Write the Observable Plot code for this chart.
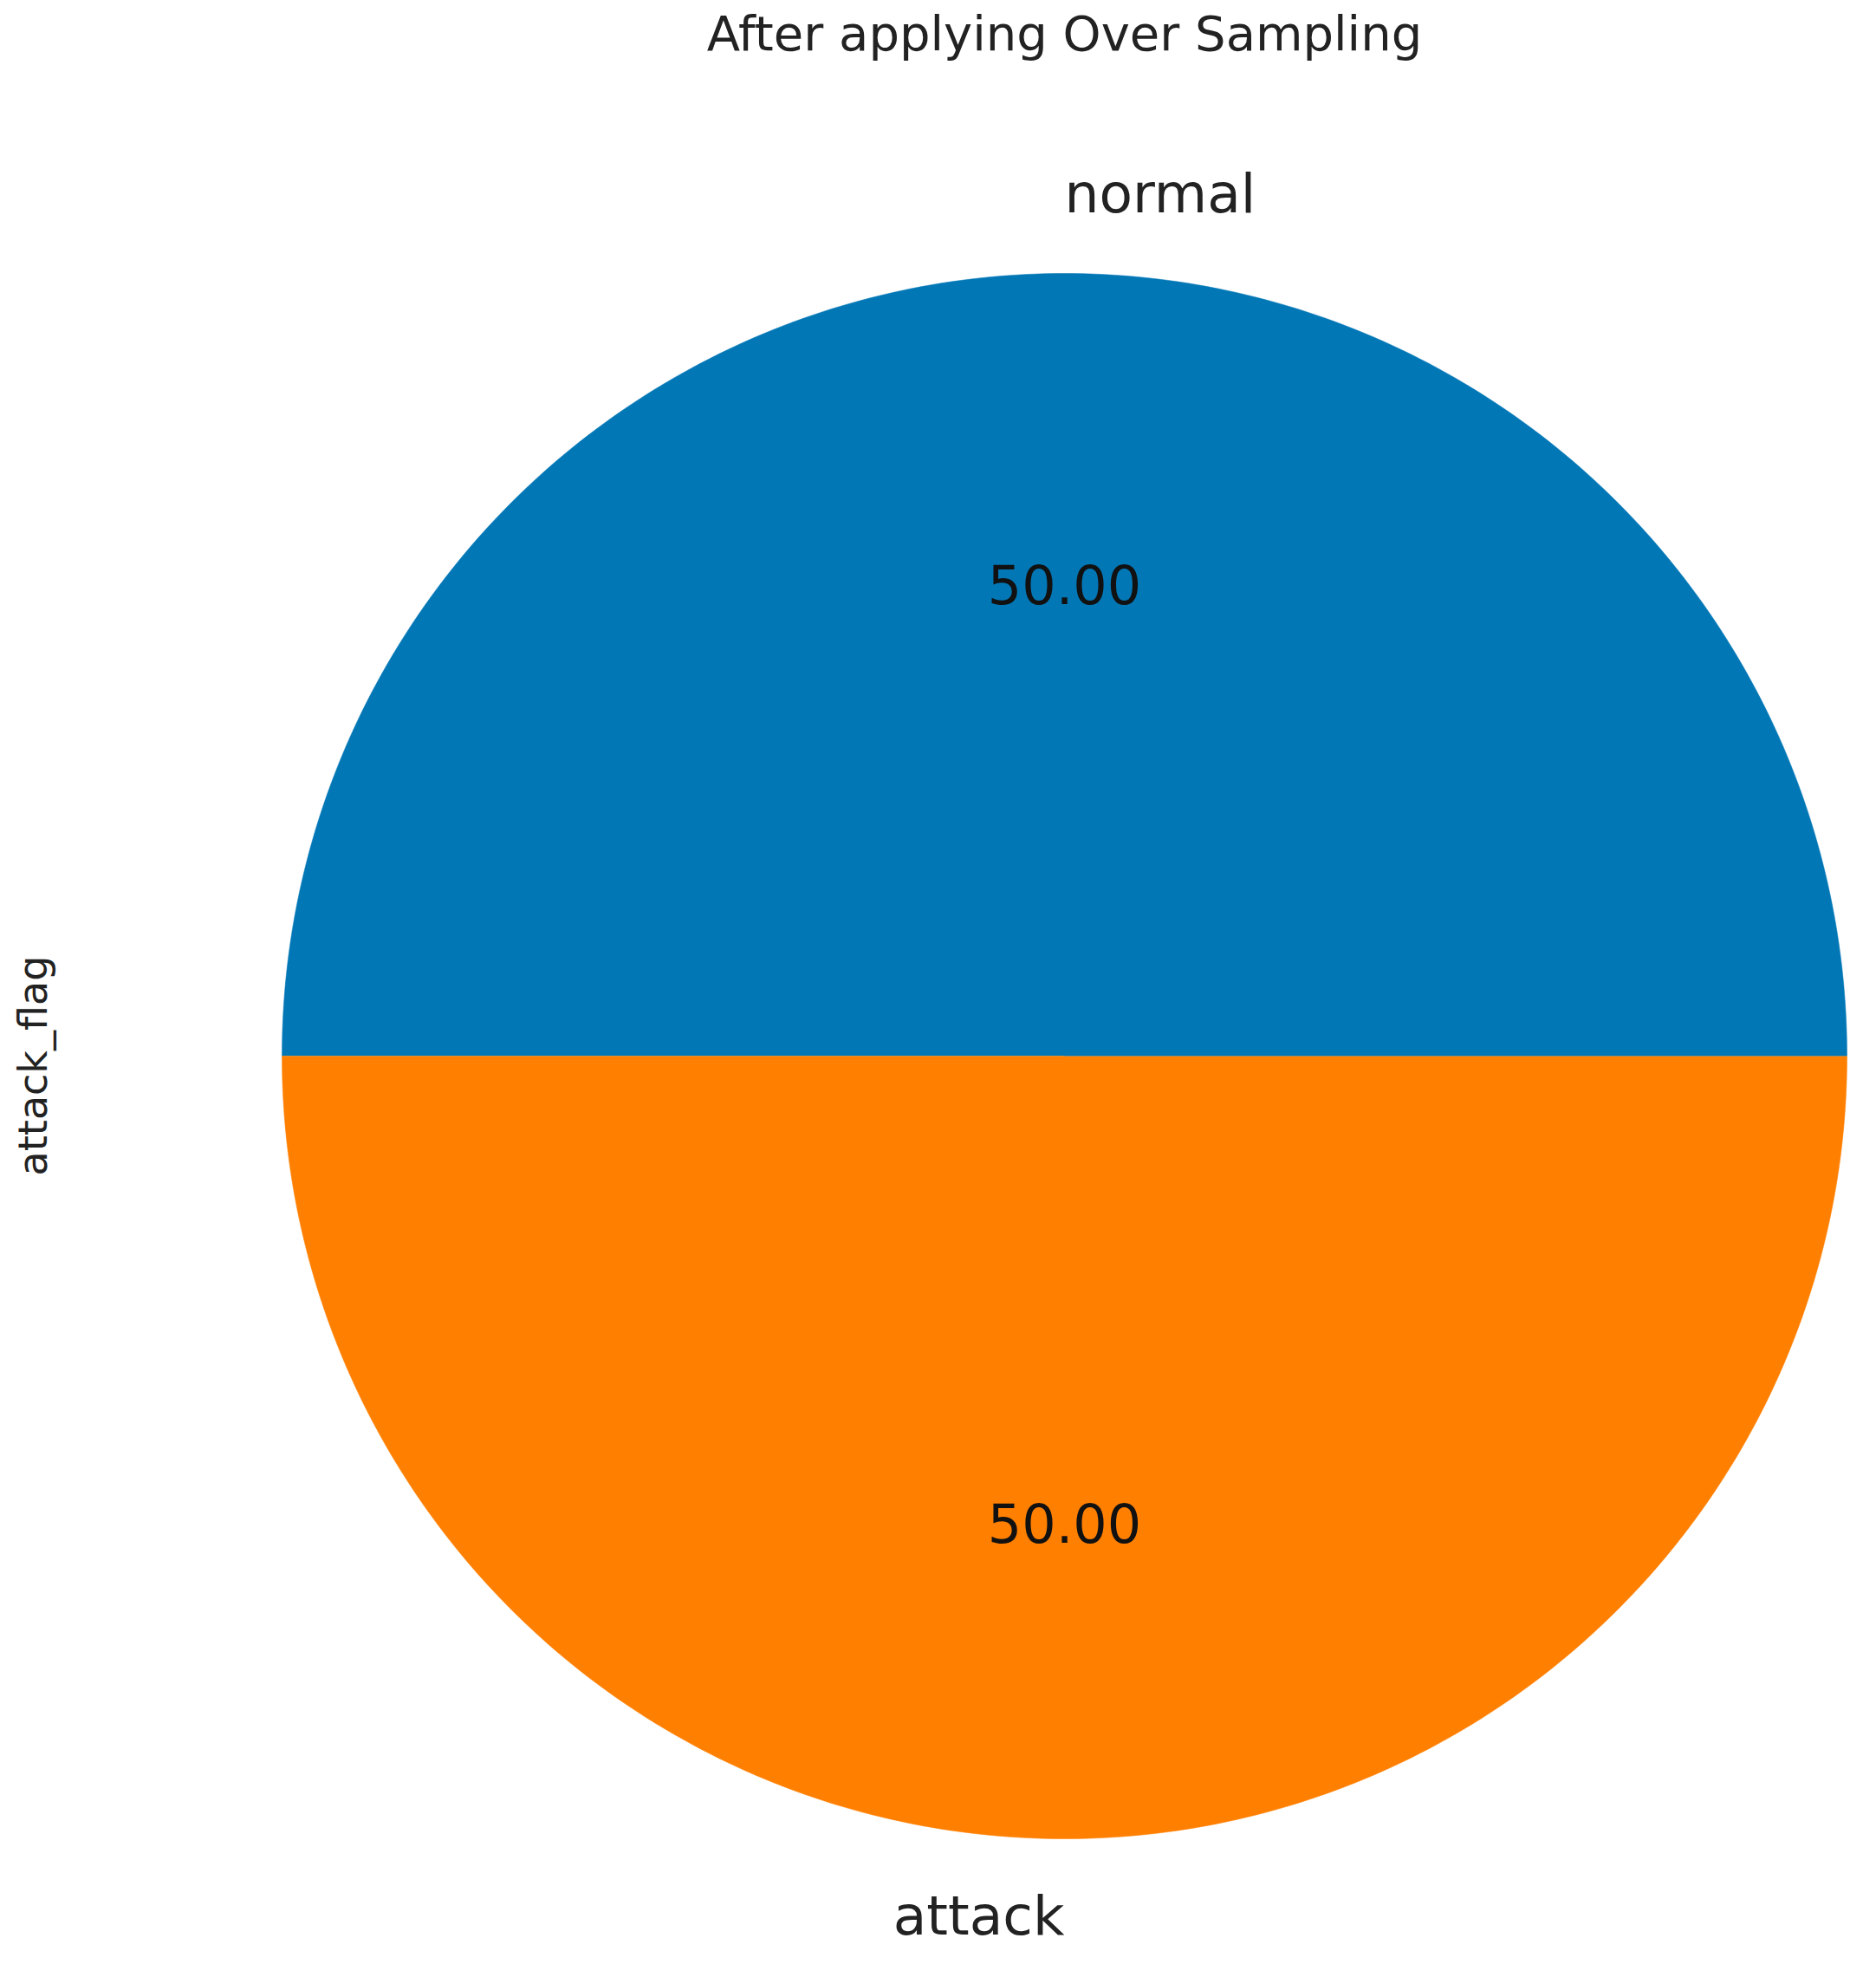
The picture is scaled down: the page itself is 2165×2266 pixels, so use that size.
<!DOCTYPE html>
<html>
<head>
<meta charset="utf-8">
<script src="https://cdn.jsdelivr.net/npm/d3@7"></script>
<script src="https://cdn.jsdelivr.net/npm/@observablehq/plot@0.6"></script>
<style>
  html, body { margin: 0; padding: 0; background: #ffffff; }
  #chart svg { display: block; }
</style>
</head>
<body>
<div id="chart"></div>
<script>
// ---- data ----
const title = "After applying Over Sampling";
const yLabel = "attack_flag";
const categories = ["normal", "attack"];
const values = [50, 50];
const sliceColors = ["#0277b6", "#ff7f00"];

// ---- pie geometry (matplotlib style: start at 0°, counter-clockwise) ----
const total = d3.sum(values);
let acc = 0;
const slices = categories.map((label, i) => {
  const t1 = acc;
  const t2 = acc + 360 * values[i] / total;
  acc = t2;
  const mid = Math.PI / 180 * (t1 + t2) / 2;
  return {
    label, value: values[i], pct: 100 * values[i] / total,
    t1, t2,
    xt: 1.1 * Math.cos(mid), yt: 1.1 * Math.sin(mid),
    xp: 0.6 * Math.cos(mid), yp: 0.6 * Math.sin(mid)
  };
});
const arcPoints = [];
for (const s of slices) {
  const steps = 240;
  arcPoints.push({label: s.label, x: 0, y: 0});
  for (let k = 0; k <= steps; k++) {
    const a = Math.PI / 180 * (s.t1 + (s.t2 - s.t1) * k / steps);
    arcPoints.push({label: s.label, x: Math.cos(a), y: Math.sin(a)});
  }
}

const chart = Plot.plot({
  width: 2165,
  height: 2266,
  marginLeft: 325,
  marginRight: 34,
  marginTop: 315,
  marginBottom: 145,
  x: {domain: [-1, 1], axis: null},
  y: {domain: [-1, 1], axis: null},
  color: {domain: categories, range: sliceColors},
  style: {fontFamily: "'DejaVu Sans', sans-serif", background: "#ffffff", color: "#222"},
  marks: [
    Plot.line(arcPoints, {x: "x", y: "y", z: "label", fill: "label", stroke: "label", strokeWidth: 0.5, curve: "linear"}),
    Plot.text(slices, {x: "xp", y: "yp", text: d => d.pct.toFixed(2), fontSize: 62, fill: "#111", lineAnchor: "middle", textAnchor: "middle"}),
    Plot.text(slices.filter(d => d.xt > 0), {x: "xt", y: "yt", text: "label", fontSize: 63, fill: "#222", textAnchor: "start", lineAnchor: "middle"}),
    Plot.text(slices.filter(d => d.xt <= 0), {x: "xt", y: "yt", text: "label", fontSize: 63, fill: "#222", textAnchor: "end", lineAnchor: "middle"}),
    Plot.text([title], {frameAnchor: "top", dy: -258, lineAnchor: "bottom", textAnchor: "middle", fontSize: 56, fill: "#222"}),
    Plot.text([yLabel], {frameAnchor: "left", rotate: -90, lineAnchor: "bottom", textAnchor: "middle", dx: -272, dy: 11, fontSize: 46, fill: "#222"})
  ]
});
document.getElementById("chart").appendChild(chart);
</script>
</body>
</html>
